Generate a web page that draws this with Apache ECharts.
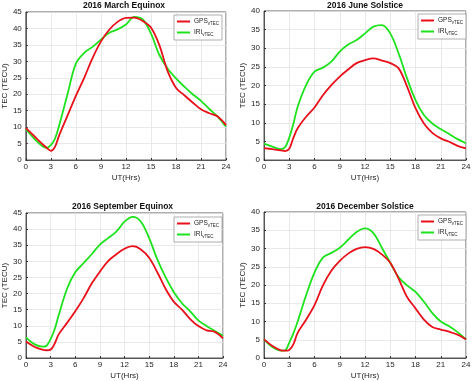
<!DOCTYPE html>
<html><head><meta charset="utf-8">
<script src="https://cdn.jsdelivr.net/npm/echarts@6/dist/echarts.min.js"></script>
<style>html,body{margin:0;padding:0;background:#fff}#c{width:474px;height:381px}</style>
</head><body><div id="c"></div>
<script>
const hours = [0,1,2,2.5,3,3.5,4,5,6,7,8,9,10,11,12,13,14,15,16,17,18,19,20,21,22,23,24];
const titles = ['2016 March Equinox','2016 June Solstice','2016 September Equinox','2016 December Solstice'];
const xTicks = [0,3,6,9,12,15,18,21,24];
const yMax = [45,40,45,40];
const marGPS = [9.8,7.3,4.8,3.7,2.8,4.0,7.5,13.5,19.5,25,31,36,39.6,42,43.2,43.3,42.3,40.3,35,27,22,19.7,17.5,15.4,14.2,13.2,10.6];
const marIRI = [9.5,6.5,4.2,3.7,4.5,6.5,10.5,20,29.3,32.6,34.4,36.6,38.7,39.7,41.2,43.5,42.8,38.5,32,27.8,24.8,22.3,20,18,15.5,13.2,10.1];
const junGPS = [3.2,2.9,2.6,2.4,3.0,6.0,8.5,11.6,14.1,17.4,20.1,22.4,24.3,26,26.8,27.3,26.7,26,24.6,19.7,13.9,9.8,7.3,5.8,4.9,3.8,3.1];
const junIRI = [4.4,3.6,2.9,3.4,6.0,9.8,14.3,20.1,23.7,24.8,26.4,29.1,31,32.2,34,35.8,36.2,34,28.6,21.9,16.1,12.1,9.8,8.3,7,5.6,4.5];
const sepGPS = [5.1,3.5,2.6,2.4,2.6,4.5,7.4,10.9,14.5,18.5,23.1,26.8,30.1,32.2,33.9,34.7,33.7,31.1,26.6,21.5,17.5,15,12.1,9.9,8.6,8.1,6.1];
const sepIRI = [6.4,4.3,3.5,3.8,5.9,9,13.4,21.5,26.6,29.4,32.2,35.2,37.2,39.2,42.3,43.8,42.3,37.2,30.6,25.1,20.5,17,14.5,11.7,9.9,8.4,6.9];
const decGPS = [5.1,3.3,2.1,2.0,2.2,3.8,6.9,10.5,14.5,19.9,23.9,26.6,28.6,29.9,30.4,29.9,28.4,26.1,21.7,16.7,13.6,10.5,8.5,7.8,7.2,6.4,5.1];
const decIRI = [5.1,3.0,2.0,2.1,4.2,6.8,10,17.2,23.4,27.5,28.8,30.2,32.4,34.5,35.5,34.2,30.2,26.1,22.1,19.9,18.1,15.4,12.3,10,8.7,7.1,5.1];
const gpsSets = [marGPS, junGPS, sepGPS, decGPS];
const iriSets = [marIRI, junIRI, sepIRI, decIRI];

const grids = [
  {left:22, top:12, width:204, height:148},
  {left:264, top:11, width:202, height:149},
  {left:22, top:213, width:201, height:148},
  {left:264, top:212, width:202, height:149}
];
const titleTop = [1,1,202,202];
const yNameGap = [16,16,17,17];
const legendPos = [[174,15],[418,14],[174,217],[418,215]];
const FONT = 'Liberation Sans, Arial, sans-serif';
const RED = '#e8101a', GREEN = '#1de21d';
const pair = (arr) => hours.map((h,i)=>[h, arr[i]]);

const option = {
  backgroundColor:'#fff',
  animation:false,
  textStyle:{fontFamily:FONT},
  title: grids.map((g,i)=>({
    text: titles[i], left: g.left + g.width/2, top: titleTop[i], textAlign:'center', padding:0,
    textStyle:{fontSize:8.5, fontWeight:'bold', color:'#111', fontFamily:FONT}
  })),
  grid: grids.map(g=>({left:g.left, top:g.top, width:g.width, height:g.height, show:true, borderColor:'#333', borderWidth:0.8, backgroundColor:'#fff'})),
  legend: grids.map((g,i)=>({
    data:['GPS','IRI'], left:legendPos[i][0], top:legendPos[i][1], orient:'vertical',
    backgroundColor:'#fff', borderColor:'#9a9a9a', borderWidth:0.8, borderRadius:0,
    padding:[3,3,3,3], itemGap:3, itemWidth:13, itemHeight:2, icon:'rect',
    textStyle:{fontSize:6.5, color:'#222', padding:[0,0,0,-1], rich:{s:{fontSize:4.5, color:'#222', padding:[4,0,0,0]}}},
    formatter: n => n + '{s|vTEC}'
  })),
  xAxis: grids.map((g,i)=>({
    gridIndex:i, type:'value', min:0, max:24, interval:3,
    name:'UT(Hrs)', nameLocation:'middle', nameGap:14,
    nameTextStyle:{fontSize:8, color:'#262626'},
    axisLine:{show:true, lineStyle:{color:'#333', width:0.8}},
    axisTick:{show:true, inside:true, length:2, lineStyle:{color:'#333'}},
    axisLabel:{fontSize:8, color:'#262626', margin:3},
    splitLine:{show:true, lineStyle:{color:'#e3e3e3', width:0.8}}
  })),
  yAxis: grids.map((g,i)=>({
    gridIndex:i, type:'value', min:0, max:yMax[i], interval:5,
    name:'TEC (TECU)', nameLocation:'middle', nameGap:yNameGap[i],
    nameTextStyle:{fontSize:8, color:'#262626'},
    axisLine:{show:true, lineStyle:{color:'#333', width:0.8}},
    axisTick:{show:true, inside:true, length:2, lineStyle:{color:'#333'}},
    axisLabel:{fontSize:8, color:'#262626', margin:4},
    splitLine:{show:true, lineStyle:{color:'#e3e3e3', width:0.8}}
  })),
  series: []
};
for (let i=0;i<4;i++){
  option.series.push({name:'GPS', type:'line', xAxisIndex:i, yAxisIndex:i, data:pair(gpsSets[i]), smooth:0.35, showSymbol:false, lineStyle:{color:RED, width:1.8}, itemStyle:{color:RED}, z:3});
  option.series.push({name:'IRI', type:'line', xAxisIndex:i, yAxisIndex:i, data:pair(iriSets[i]), smooth:0.35, showSymbol:false, lineStyle:{color:GREEN, width:1.8}, itemStyle:{color:GREEN}, z:2});
}
const chart = echarts.init(document.getElementById('c'), null, {renderer:'canvas'});
chart.setOption(option);
</script></body></html>
